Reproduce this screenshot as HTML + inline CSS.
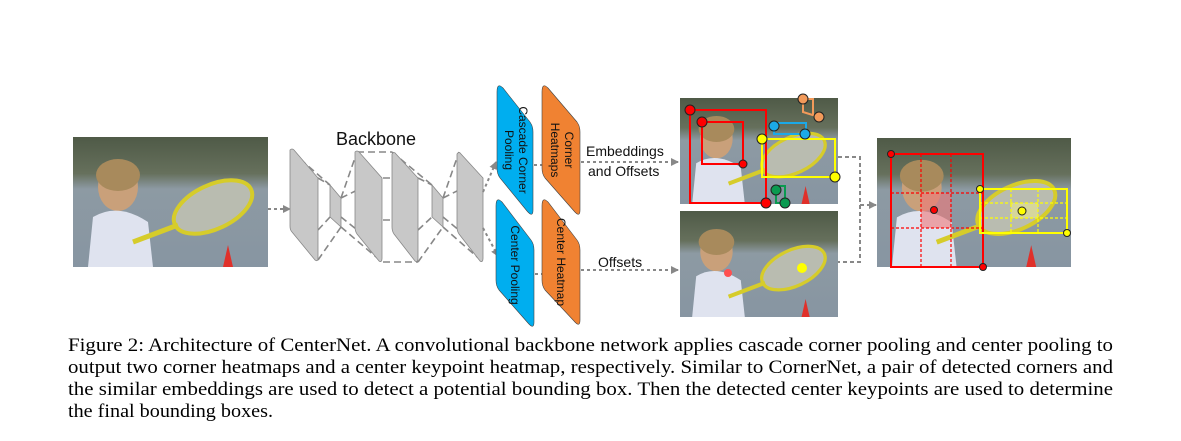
<!DOCTYPE html>
<html><head><meta charset="utf-8"><style>
html,body{margin:0;padding:0;background:#fff;}
svg{display:block;}
</style></head><body>
<svg width="1181" height="441" viewBox="0 0 1181 441" xmlns="http://www.w3.org/2000/svg">
<defs>
<linearGradient id="ph" x1="0" y1="0" x2="0" y2="1">
<stop offset="0" stop-color="#4f5a47"/><stop offset="0.28" stop-color="#66705c"/>
<stop offset="0.4" stop-color="#8d9aa3"/><stop offset="1" stop-color="#8795a2"/>
</linearGradient>
<marker id="ah" markerWidth="8" markerHeight="8" refX="7" refY="4" orient="auto" markerUnits="userSpaceOnUse"><path d="M0,0 L8,4 L0,8 z" fill="#888"/></marker>
<g id="photo">
<rect x="0" y="0" width="195" height="130" fill="url(#ph)"/>
<ellipse cx="45" cy="50" rx="20" ry="24" fill="#c9a07a"/>
<ellipse cx="45" cy="38" rx="22" ry="16" fill="#a88a5c"/>
<path d="M15,130 L20,80 Q45,65 75,85 L80,130 z" fill="#dfe3ef"/>
<ellipse cx="140" cy="70" rx="42" ry="22" transform="rotate(-25 140 70)" fill="#b9bcb0" stroke="#d6cc2a" stroke-width="4"/>
<path d="M60,105 L105,88" stroke="#d6cc2a" stroke-width="5"/>
<path d="M150,130 L155,108 L160,130z" fill="#e0302a"/>
</g>
</defs>
<svg x="73" y="137" width="195" height="130" viewBox="0 0 195 130"><use href="#photo"/></svg>
<line x1="268" y1="209" x2="290" y2="209" stroke="#888" stroke-width="2" stroke-dasharray="3,3" marker-end="url(#ah)"/>
<text x="336" y="145" font-family="Liberation Sans,sans-serif" font-size="18" fill="#111">Backbone</text>
<g stroke="#888" stroke-width="1.6" stroke-dasharray="7,4" fill="none">
<path d="M292,152 L330,185 M318,260 L341,227 M318,178 L330,185 M318,230 L330,217"/>
<path d="M341,198 L357,152 M341,227 L382,262 M341,198 L382,178 M341,217 L382,250"/>
<path d="M383,178 L418,178 M383,262 L418,262 M383,220 L418,220 M357,152 L392,152"/>
<path d="M418,178 L432,185 M418,262 L443,227 M418,230 L432,217 M392,152 L432,185"/>
<path d="M443,198 L459,152 M443,227 L483,262 M443,198 L483,178 M443,217 L483,250"/>
</g>
<g fill="#c8c8c8" stroke="#888" stroke-width="0.8">
<path d="M290,150 Q292,148 294,150 L318,178 L318,258 Q318,262 315,260 L292,232 Q290,230 290,226 z"/>
<path d="M330,185 L341,198 L341,227 L330,217 z"/>
<path d="M355,152 Q357,150 359,152 L382,178 L382,258 Q382,263 379,261 L357,234 Q355,231 355,227 z"/>
<path d="M392,154 Q394,151 396,154 L418,178 L418,258 Q418,263 415,261 L394,234 Q392,231 392,227 z"/>
<path d="M432,185 L443,198 L443,227 L432,217 z"/>
<path d="M457,154 Q459,151 461,154 L483,178 L483,258 Q483,263 480,261 L459,234 Q457,231 457,227 z"/>
</g>
<g stroke="#888" stroke-width="2" stroke-dasharray="3,3" fill="none">
<line x1="483" y1="192" x2="496" y2="162" marker-end="url(#ah)"/>
<line x1="483" y1="228" x2="498" y2="256" marker-end="url(#ah)"/>
<line x1="534" y1="165" x2="552" y2="165" marker-end="url(#ah)"/>
<line x1="535" y1="274" x2="551" y2="274" marker-end="url(#ah)"/>
<line x1="581" y1="162" x2="678" y2="162" marker-end="url(#ah)"/>
<line x1="581" y1="270" x2="678" y2="270" marker-end="url(#ah)"/>
</g>
<path d="M497,92 Q497,82 503,88 L530,122 Q533,126 533,132 L533,210 Q533,218 527,211 L500,178 Q497,174 497,168 z" fill="#00aeef" stroke="#444" stroke-width="0.6"/>
<path d="M496,206 Q496,196 502,202 L531,240 Q534,244 534,250 L534,322 Q534,330 528,323 L499,290 Q496,286 496,280 z" fill="#00aeef" stroke="#444" stroke-width="0.6"/>
<path d="M542,92 Q542,82 548,88 L577,122 Q580,126 580,132 L580,210 Q580,218 574,211 L545,178 Q542,174 542,168 z" fill="#f08232" stroke="#444" stroke-width="0.6"/>
<path d="M542,206 Q542,196 548,202 L577,240 Q580,244 580,250 L580,320 Q580,328 574,321 L545,290 Q542,286 542,280 z" fill="#f08232" stroke="#444" stroke-width="0.6"/>
<g font-family="Liberation Sans,sans-serif" font-size="12" fill="#111" text-anchor="middle">
<text transform="translate(515,150) rotate(90)"><tspan x="0" y="-4">Cascade Corner</tspan><tspan x="0" y="10">Pooling</tspan></text>
<text transform="translate(515,265) rotate(90)" y="4">Center Pooling</text>
<text transform="translate(561,150) rotate(90)"><tspan x="0" y="-4">Corner</tspan><tspan x="0" y="10">Heatmaps</tspan></text>
<text transform="translate(561,262) rotate(90)" y="4">Center Heatmap</text>
</g>
<g font-family="Liberation Sans,sans-serif" font-size="14" fill="#111">
<text x="586" y="156">Embeddings</text>
<text x="588" y="176">and Offsets</text>
<text x="598" y="267">Offsets</text>
</g>
<svg x="680" y="98" width="158" height="106" viewBox="0 0 195 130" preserveAspectRatio="none"><use href="#photo"/></svg>
<svg x="680" y="211" width="158" height="106" viewBox="0 0 195 130" preserveAspectRatio="none"><use href="#photo"/></svg>
<svg x="877" y="138" width="194" height="129" viewBox="0 0 195 130" preserveAspectRatio="none"><use href="#photo"/></svg>
<g fill="none" stroke-width="2">
<rect x="690" y="110" width="76" height="93" stroke="#f00"/>
<rect x="702" y="122" width="41" height="42" stroke="#f00"/>
<rect x="762" y="139" width="73" height="38" stroke="#ff0"/>
<path d="M803,99 L813,99 L813,115 M803,99 L803,112 L819,117" stroke="#f29a5a"/>
<path d="M774,126 L774,134 L805,134 M774,123 L806,123 L806,134" stroke="#1ba9e8"/>
<path d="M776,190 L776,203 L785,203 M776,186 L785,186 L785,203" stroke="#0a9a50"/>
</g>
<g stroke="#222" stroke-width="1">
<circle cx="690" cy="110" r="5" fill="#f00"/><circle cx="766" cy="203" r="5" fill="#f00"/>
<circle cx="702" cy="122" r="5" fill="#f00"/><circle cx="743" cy="164" r="4" fill="#f00"/>
<circle cx="762" cy="139" r="5" fill="#ff0"/><circle cx="835" cy="177" r="5" fill="#ff0"/>
<circle cx="803" cy="99" r="5" fill="#f29a5a"/><circle cx="819" cy="117" r="5" fill="#f29a5a"/>
<circle cx="774" cy="126" r="5" fill="#1ba9e8"/><circle cx="805" cy="134" r="5" fill="#1ba9e8"/>
<circle cx="776" cy="190" r="5" fill="#0a9a50"/><circle cx="785" cy="203" r="5" fill="#0a9a50"/>
</g>
<circle cx="728" cy="273" r="4" fill="#ff5050"/>
<circle cx="802" cy="268" r="5" fill="#ff0"/>
<path d="M838,157 L860,157 L860,262 L838,262 M860,205 L876,205" fill="none" stroke="#888" stroke-width="2" stroke-dasharray="4,3" marker-end="url(#ah)"/>
<rect x="921" y="193" width="30" height="35" fill="#f07878" opacity="0.6"/>
<rect x="1011" y="203" width="27" height="15" fill="#f4f08a" opacity="0.5"/>
<g fill="none" stroke-width="1.2" stroke-dasharray="3,2">
<path d="M921,154 V267 M951,154 V267 M891,193 H983 M891,228 H983" stroke="#f00"/>
<path d="M1011,189 V233 M1038,189 V233 M980,203 H1067 M980,218 H1067" stroke="#ff0"/>
</g>
<rect x="891" y="154" width="92" height="113" fill="none" stroke="#f00" stroke-width="2"/>
<rect x="980" y="189" width="87" height="44" fill="none" stroke="#ff0" stroke-width="2"/>
<g stroke="#222" stroke-width="1">
<circle cx="891" cy="154" r="3.5" fill="#f00"/><circle cx="983" cy="267" r="3.5" fill="#f00"/>
<circle cx="934" cy="210" r="3.5" fill="#f00"/>
<circle cx="980" cy="189" r="3.5" fill="#ff0"/><circle cx="1067" cy="233" r="3.5" fill="#ff0"/>
<circle cx="1022" cy="211" r="4" fill="#ff0"/>
</g>
<g font-family="Liberation Serif,serif" font-size="19" fill="#000">
<text x="68" y="351" textLength="1045" lengthAdjust="spacingAndGlyphs">Figure 2: Architecture of CenterNet. A convolutional backbone network applies cascade corner pooling and center pooling to</text>
<text x="68" y="373" textLength="1045" lengthAdjust="spacingAndGlyphs">output two corner heatmaps and a center keypoint heatmap, respectively. Similar to CornerNet, a pair of detected corners and</text>
<text x="68" y="395" textLength="1045" lengthAdjust="spacingAndGlyphs">the similar embeddings are used to detect a potential bounding box. Then the detected center keypoints are used to determine</text>
<text x="68" y="417" textLength="205" lengthAdjust="spacingAndGlyphs">the final bounding boxes.</text>
</g>
</svg>
</body></html>
